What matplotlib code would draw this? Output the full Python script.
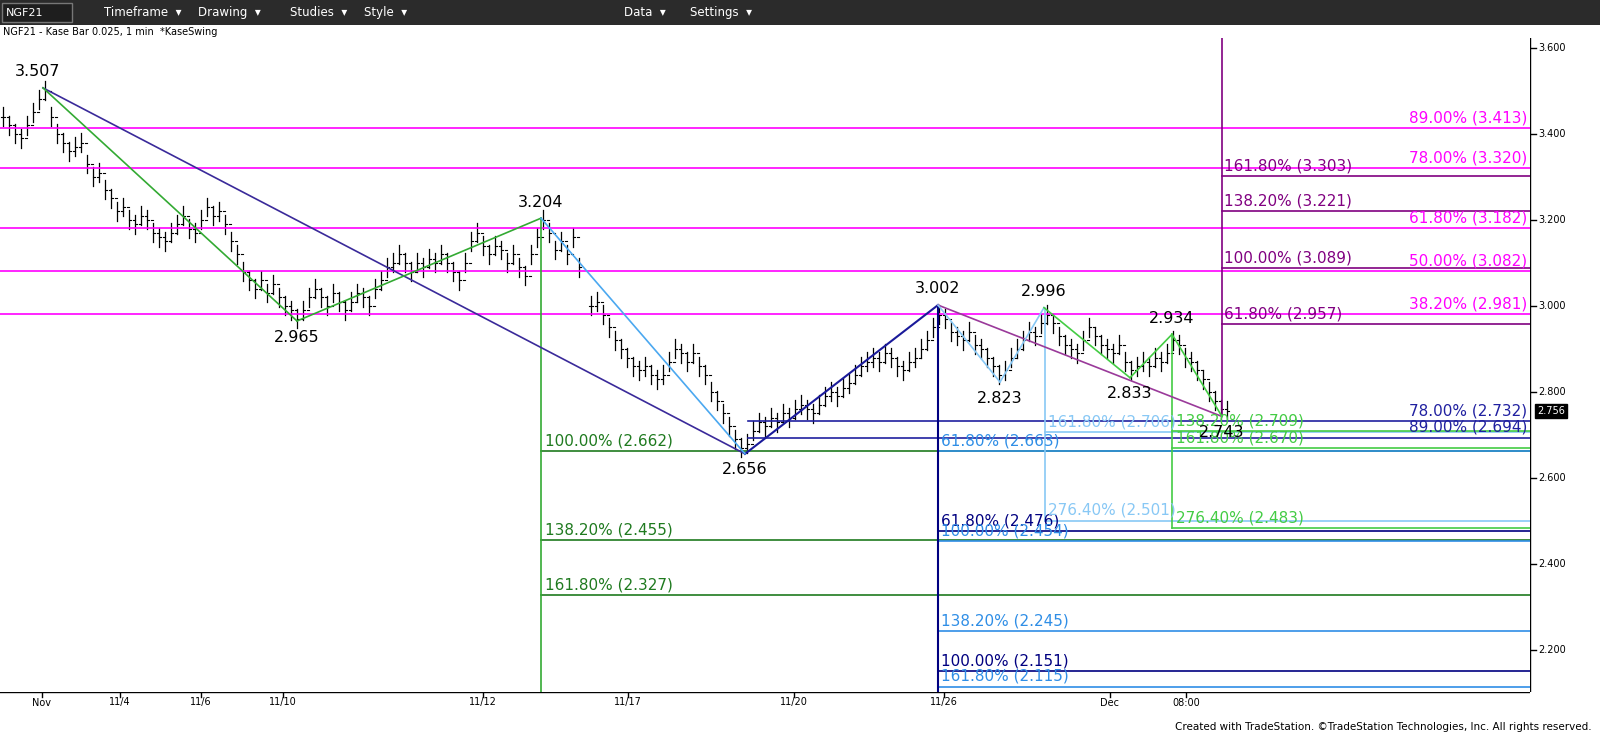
import matplotlib
matplotlib.use("Agg")
import matplotlib.pyplot as plt
import numpy as np

closes = [3.44,3.42,3.40,3.39,3.42,3.45,3.48,3.50,3.44,3.40,3.38,3.36,3.37,3.38,3.33,3.30,3.31,3.27,3.25,3.22,
3.23,3.20,3.19,3.21,3.20,3.17,3.16,3.15,3.17,3.19,3.21,3.18,3.17,3.20,3.23,3.21,3.22,3.19,3.15,3.12,
3.08,3.06,3.04,3.06,3.03,3.05,3.02,3.00,2.99,2.97,2.99,3.02,3.04,3.02,3.00,3.03,3.01,2.99,3.01,3.03,
3.02,3.00,3.04,3.06,3.09,3.10,3.12,3.10,3.08,3.10,3.09,3.11,3.10,3.12,3.10,3.08,3.06,3.10,3.15,3.17,
3.14,3.12,3.14,3.13,3.10,3.12,3.09,3.07,3.12,3.16,3.20,3.17,3.13,3.15,3.12,3.16,3.09,np.nan,3.00,3.01,
2.98,2.95,2.92,2.90,2.88,2.86,2.85,2.86,2.84,2.83,2.84,2.87,2.90,2.89,2.87,2.89,2.86,2.84,2.80,2.78,
2.75,2.72,2.69,2.67,2.68,2.71,2.73,2.72,2.74,2.73,2.75,2.74,2.76,2.77,2.76,2.75,2.77,2.79,2.80,2.79,
2.81,2.82,2.84,2.86,2.87,2.88,2.87,2.89,2.88,2.86,2.85,2.87,2.88,2.90,2.92,2.95,2.98,2.97,2.94,2.93,
2.92,2.94,2.91,2.90,2.88,2.86,2.84,2.85,2.88,2.90,2.92,2.94,2.93,2.96,2.98,2.96,2.93,2.91,2.90,2.89,
2.92,2.95,2.93,2.91,2.90,2.89,2.91,2.87,2.85,2.86,2.87,2.86,2.88,2.87,2.89,2.92,2.91,2.88,2.87,2.85,
2.83,2.80,2.78,2.76,2.756]

swing_x = [43, 297, 541, 745, 938, 1000, 1044, 1130, 1172, 1222]
swing_p = [3.507, 2.965, 3.204, 2.656, 3.002, 2.823, 2.996, 2.833, 2.934, 2.743]
swing_lbl = ["3.507","2.965","3.204","2.656","3.002","2.823","2.996","2.833","2.934","2.743"]

magenta_lv = [3.413, 3.320, 3.182, 3.082, 2.981]
magenta_lb = ["89.00% (3.413)","78.00% (3.320)","61.80% (3.182)","50.00% (3.082)","38.20% (2.981)"]
purple_lv = [3.303, 3.221, 3.089, 2.957]
purple_lb = ["161.80% (3.303)","138.20% (3.221)","100.00% (3.089)","61.80% (2.957)"]
navyR_lv = [2.732, 2.694]
navyR_lb = ["78.00% (2.732)","89.00% (2.694)"]
green_lv = [2.662, 2.455, 2.327]
green_lb = ["100.00% (2.662)","138.20% (2.455)","161.80% (2.327)"]
navy_lv = [2.476, 2.151]
navy_lb = ["61.80% (2.476)","100.00% (2.151)"]
blue_lv = [2.663, 2.454, 2.245, 2.115]
blue_lb = ["61.80% (2.663)","100.00% (2.454)","138.20% (2.245)","161.80% (2.115)"]
sky_lv = [2.706, 2.501]
sky_lb = ["161.80% (2.706)","276.40% (2.501)"]
lgreen_lv = [2.709, 2.670, 2.483]
lgreen_lb = ["138.20% (2.709)","161.80% (2.670)","276.40% (2.483)"]

date_pos = [42, 120, 201, 283, 483, 628, 794, 944, 1110, 1186]
date_lbl = ["Nov","11/4","11/6","11/10","11/12","11/17","11/20","11/26","Dec","08:00"]
yticks = [2.2, 2.4, 2.6, 2.8, 3.0, 3.2, 3.4, 3.6]

fig = plt.figure(figsize=(16, 7.41), dpi=100)
fig.patch.set_facecolor("white")
ax = fig.add_axes([0, 49/741, 1530/1600, (692-38)/741])
XMAX = 1530
ax.set_xlim(0, XMAX)
ax.set_ylim(2.1023, 3.623)

xs = np.arange(len(closes)) * 6 + 3
for i, (x, c) in enumerate(zip(xs, closes)):
    if np.isnan(c):
        continue
    o = closes[i-1] if i > 0 and not np.isnan(closes[i-1]) else c
    ax.plot([x, x], [c-0.022, c+0.022], color="black", lw=0.9)
    ax.plot([x-2, x], [o, o], color="black", lw=0.8)
    ax.plot([x, x+2], [c, c], color="black", lw=0.8)

def hl(levels, labels, x0, color, lblx, ha="left", fs=11):
    for lv, lb in zip(levels, labels):
        ax.plot([x0, XMAX], [lv, lv], color=color, lw=1.2)
        ax.text(lblx, lv+0.006, lb, color=color, fontsize=fs, ha=ha, va="bottom")

hl(magenta_lv, magenta_lb, 0, "#ff00ff", 1527, "right")
hl(purple_lv, purple_lb, 1222, "#800080", 1224)
hl(navyR_lv, navyR_lb, 748, "#2020a0", 1527, "right")
hl(green_lv, green_lb, 541, "#1f7a1f", 545)
hl(navy_lv, navy_lb, 938, "#000080", 941)
hl(blue_lv, blue_lb, 938, "#2f8ee6", 941)
hl(sky_lv, sky_lb, 1045, "#88c8f5", 1048)
hl(lgreen_lv, lgreen_lb, 1172, "#44cc44", 1176)

ylo = 2.1023
ax.plot([1222, 1222], [2.743, 3.623], color="#800080", lw=1.2)
ax.plot([541, 541], [ylo, 3.204], color="#33aa33", lw=1.2)
ax.plot([938, 938], [ylo, 3.002], color="#000080", lw=1.5)
ax.plot([1045, 1045], [2.501, 2.996], color="#88c8f5", lw=1.2)
ax.plot([1172, 1172], [2.483, 2.934], color="#44cc44", lw=1.2)

sx, sp = swing_x, swing_p
def seg(a, b, color, lw=1.2):
    ax.plot([sx[a], sx[b]], [sp[a], sp[b]], color=color, lw=lw)
seg(0, 3, "#3a2a9a")
seg(3, 4, "#1a1a9a", 1.5)
seg(0, 1, "#33aa33"); seg(1, 2, "#33aa33")
seg(2, 3, "#4ba8f0")
seg(4, 9, "#9a3a9a")
seg(4, 5, "#88c8f5"); seg(5, 6, "#88c8f5")
seg(6, 7, "#44cc44"); seg(7, 8, "#44cc44"); seg(8, 9, "#44cc44")

for i, (x, p, l) in enumerate(zip(swing_x, swing_p, swing_lbl)):
    top = i in (0, 2, 4, 6, 8)
    ax.text(x - (5 if i == 0 else 0), p + (0.02 if top else -0.02), l, fontsize=11.5,
            ha="center", va="bottom" if top else "top", color="black")

for s in ax.spines.values():
    s.set_visible(False)
ax.set_xticks([]); ax.set_yticks([])

rax = fig.add_axes([1530/1600, 49/741, 70/1600, (692-38)/741])
rax.set_xlim(0, 1); rax.set_ylim(2.1023, 3.623)
rax.axis("off")
rax.plot([0, 0], [2.1023, 3.623], color="black", lw=1)
for t in yticks:
    rax.plot([0, 0.08], [t, t], color="black", lw=1)
    rax.text(0.12, t, f"{t:.3f}", fontsize=7, va="center")
rax.text(0.1, 2.756, "2.756", fontsize=7, va="center", color="white",
         bbox=dict(boxstyle="square,pad=0.2", fc="black", ec="black"))

bax = fig.add_axes([0, 28/741, 1530/1600, 21/741])
bax.set_xlim(0, XMAX); bax.set_ylim(0, 1); bax.axis("off")
bax.plot([0, XMAX], [1, 1], color="black", lw=1)
for p, l in zip(date_pos, date_lbl):
    bax.plot([p, p], [1, 0.75], color="black", lw=1)
    bax.text(p, 0.5, l, fontsize=7, ha="center", va="center")
fig.text(0.995, 0.012, "Created with TradeStation. ©TradeStation Technologies, Inc. All rights reserved.",
         fontsize=7.5, ha="right", va="bottom")

tb = fig.add_axes([0, 1-25/741, 1, 25/741])
tb.set_xlim(0, 1600); tb.set_ylim(0, 1); tb.axis("off")
tb.add_patch(plt.Rectangle((0, 0), 1600, 1, color="#2b2b2b"))
tb.add_patch(plt.Rectangle((2, 0.12), 70, 0.76, fc="#1e1e1e", ec="#777777"))
tb.text(6, 0.5, "NGF21", color="white", fontsize=8, va="center")
for x, t in [(104, "Timeframe  ▾"), (198, "Drawing  ▾"), (290, "Studies  ▾"), (364, "Style  ▾"),
             (624, "Data  ▾"), (690, "Settings  ▾")]:
    tb.text(x, 0.5, t, color="white", fontsize=8.5, va="center")
fig.text(0.002, 1-32/741, "NGF21 - Kase Bar 0.025, 1 min  *KaseSwing", fontsize=7, va="center")

fig.savefig("out.png", dpi=100)
